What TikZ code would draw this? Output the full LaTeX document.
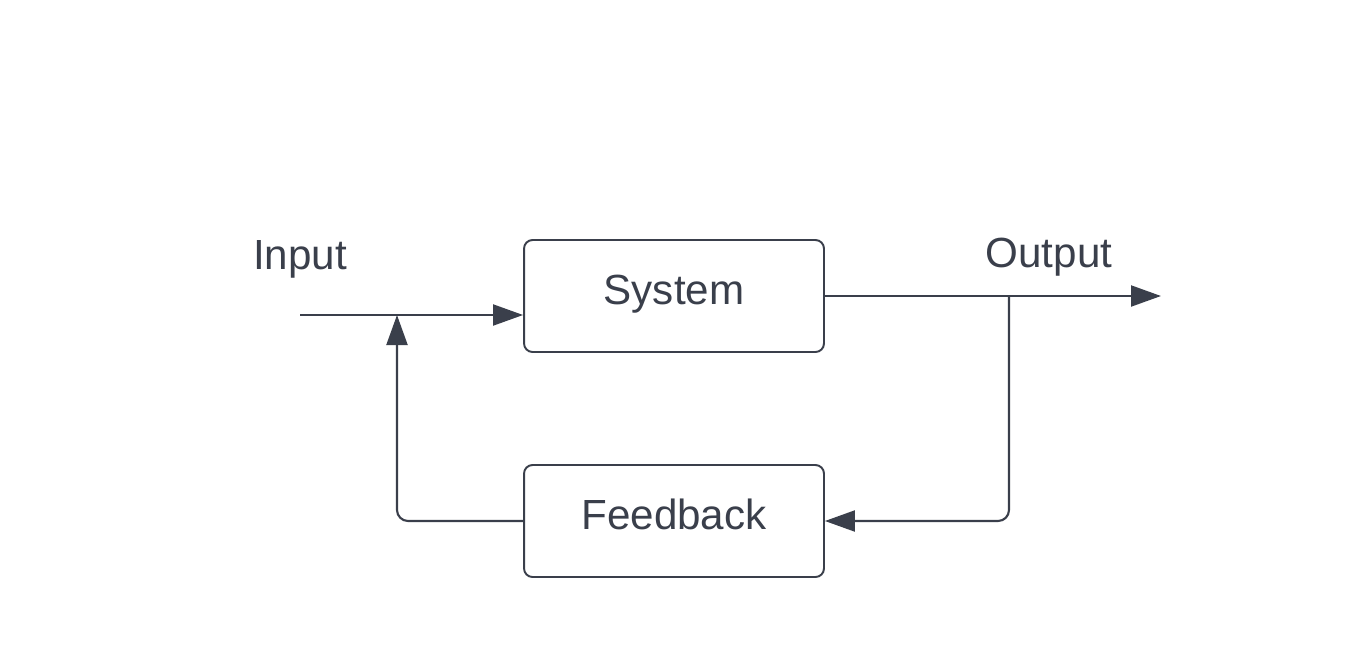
\documentclass[tikz,border=0pt]{standalone}
\usepackage{fontspec}
\setmainfont{Liberation Sans}
\usetikzlibrary{arrows.meta}
\usetikzlibrary{positioning}

\definecolor{ink}{HTML}{3A3F4B}

\begin{document}
\begin{tikzpicture}[
        x=0.02cm, y=-0.02cm,
        >={Triangle[length=0.6cm, width=0.42cm]},
        block/.style={draw=ink, line width=1.1pt, rounded corners=0.17cm,
            minimum width=6cm, minimum height=2.24cm, inner sep=0pt,
            text height=0.6cm, text depth=0.26cm,
            text=ink, font=\fontsize{24}{28}\selectfont},
        label/.style={text=ink, font=\fontsize{24}{28}\selectfont},
        wire/.style={draw=ink, line width=1.2pt},
    ]

    \useasboundingbox (0, 0) rectangle (1350, 653);

    % boxes
    \node[block] (sys) at (674, 296) {System};
    \node[block] (fb)  at (674, 521) {Feedback};

    % labels
    \node[label] (inlbl)  at (300, 259) {Input};
    \node[label] (outlbl) at (1049, 257) {Output};

    % points on the loop
    \coordinate (in)  at (300, 315);
    \coordinate (jn)  at (397, 315);
    \coordinate (br)  at (1009, 296);
    \coordinate (out) at (1161, 296);

    \draw[wire, ->] (in) -- (in -| sys.west);
    \draw[wire, ->] (sys.east) -- (out);
    \draw[wire, ->, rounded corners=0.22cm] (br) |- (fb.east);
    \draw[wire, ->, rounded corners=0.22cm] (fb.west) -| (jn);

\end{tikzpicture}
\end{document}
